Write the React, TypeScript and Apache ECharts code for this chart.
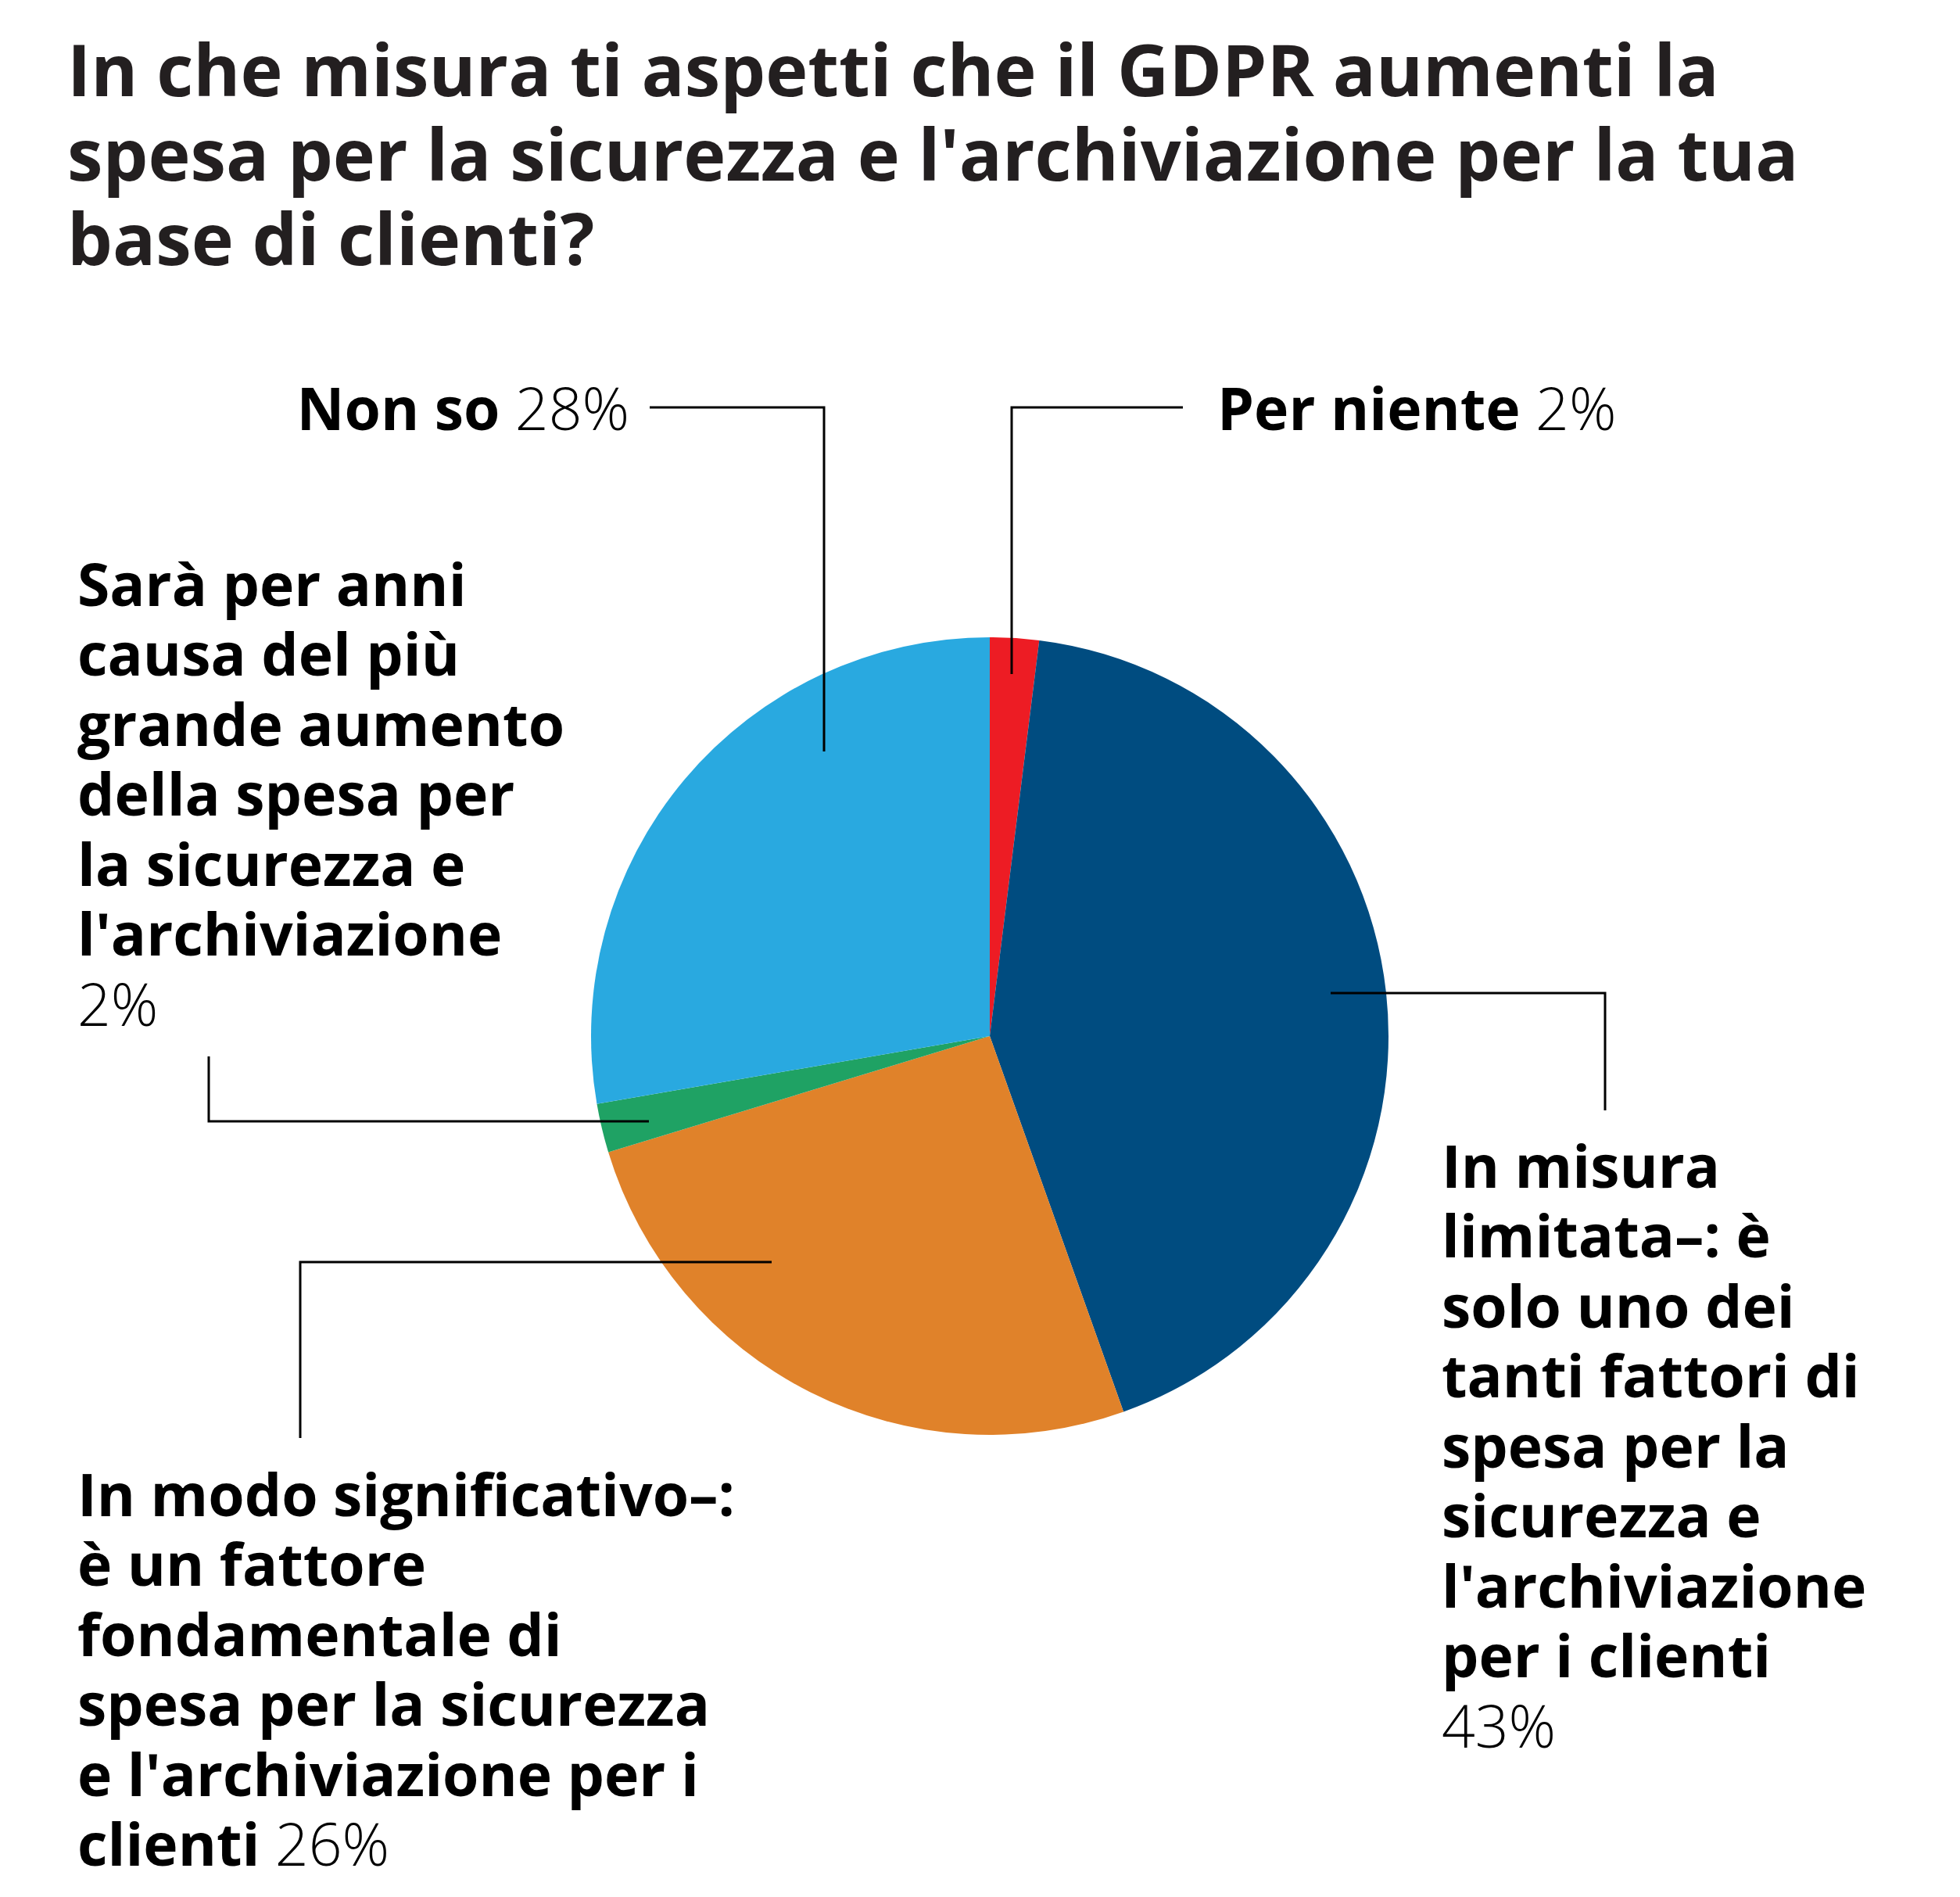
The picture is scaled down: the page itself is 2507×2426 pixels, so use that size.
import React, { useEffect, useRef } from "react";
import * as echarts from "echarts";

// Survey answers, clockwise from 12 o'clock
const categories = [
  "Per niente",
  "In misura limitata–: è solo uno dei tanti fattori di spesa per la sicurezza e l'archiviazione per i clienti",
  "In modo significativo–: è un fattore fondamentale di spesa per la sicurezza e l'archiviazione per i clienti",
  "Sarà per anni causa del più grande aumento della spesa per la sicurezza e l'archiviazione",
  "Non so",
];
const values = [2, 43, 26, 2, 28];
const sliceColors = ["#ED1C24", "#004C80", "#E0822A", "#1FA264", "#29A9E0"];

// Label text broken into lines as typeset next to each slice
const wrappedNames = [
  ["Per niente"],
  ["In misura", "limitata–: è", "solo uno dei", "tanti fattori di", "spesa per la", "sicurezza e", "l'archiviazione", "per i clienti"],
  ["In modo significativo–:", "è un fattore", "fondamentale di", "spesa per la sicurezza", "e l'archiviazione per i", "clienti"],
  ["Sarà per anni", "causa del più", "grande aumento", "della spesa per", "la sicurezza e", "l'archiviazione"],
  ["Non so"],
];
const valueOnOwnLine = [false, true, false, true, false];

const titleLines = [
  "In che misura ti aspetti che il GDPR aumenti la",
  "spesa per la sicurezza e l'archiviazione per la tua",
  "base di clienti?",
];

// Label block placement: anchor point, alignment, and leader line points
const labelLayout = [
  { x: 1557, y: 521, align: "left", vAlign: "middle", line: [[1294, 862], [1294, 521], [1513, 521]] },
  { x: 1844, y: 1445, align: "left", vAlign: "top", line: [[1702, 1270], [2053, 1270], [2053, 1420]] },
  { x: 99, y: 1865, align: "left", vAlign: "top", line: [[987, 1614], [384, 1614], [384, 1839]] },
  { x: 99, y: 701, align: "left", vAlign: "top", line: [[830, 1434], [267, 1434], [267, 1351]] },
  { x: 805, y: 521, align: "right", vAlign: "middle", line: [[1054, 961], [1054, 521], [831, 521]] },
];

const FONT = "'Open Sans', 'Noto Sans', sans-serif";
const LABEL_SIZE = 75;
const LABEL_LH = 89.5;

function buildLabelText(i: number): string {
  const lines = wrappedNames[i].map((l) => `{b|${l}}`);
  const pct = `{v|${values[i]}%}`;
  if (valueOnOwnLine[i]) {
    lines.push(pct);
  } else {
    const last = wrappedNames[i][wrappedNames[i].length - 1];
    lines[lines.length - 1] = `{b|${last} }${pct}`;
  }
  return lines.join("\n");
}

export default function App() {
  const ref = useRef<HTMLDivElement>(null);

  useEffect(() => {
    if (!ref.current) return;
    const chart = echarts.init(ref.current, null, { renderer: "svg" });

    const graphics: any[] = [
      {
        type: "text",
        x: 86,
        y: 33,
        style: {
          text: titleLines.join("\n"),
          fontFamily: FONT,
          fontWeight: 700,
          fontSize: 91.5,
          lineHeight: 108,
          fill: "#231F20",
          textAlign: "left",
          textVerticalAlign: "top",
        },
      },
    ];

    labelLayout.forEach((lay, i) => {
      graphics.push({
        type: "polyline",
        shape: { points: lay.line },
        style: { stroke: "#000", lineWidth: 3, fill: null },
        z: 10,
      });
      graphics.push({
        type: "text",
        x: lay.x,
        y: lay.y,
        style: {
          text: buildLabelText(i),
          textAlign: lay.align,
          textVerticalAlign: lay.vAlign,
          fontFamily: FONT,
          fontSize: LABEL_SIZE,
          lineHeight: LABEL_LH,
          fill: "#000",
          rich: {
            b: { fontFamily: FONT, fontWeight: 700, fontSize: LABEL_SIZE, lineHeight: LABEL_LH, fill: "#000" },
            v: { fontFamily: FONT, fontWeight: 300, fontSize: LABEL_SIZE, lineHeight: LABEL_LH, fill: "#000" },
          },
        },
        z: 10,
      });
    });

    chart.setOption({
      animation: false,
      backgroundColor: "#ffffff",
      series: [
        {
          type: "pie",
          center: [1266, 1325],
          radius: [0, 510],
          startAngle: 90,
          clockwise: true,
          label: { show: false },
          labelLine: { show: false },
          itemStyle: { borderWidth: 0 },
          emphasis: { disabled: true },
          data: categories.map((name, i) => ({
            name,
            value: values[i],
            itemStyle: { color: sliceColors[i] },
          })),
        },
      ],
      graphic: graphics,
    });

    return () => chart.dispose();
  }, []);

  return (
    <div
      ref={ref}
      style={{ position: "absolute", left: 0, top: 0, width: 2507, height: 2426, background: "#fff" }}
    />
  );
}
